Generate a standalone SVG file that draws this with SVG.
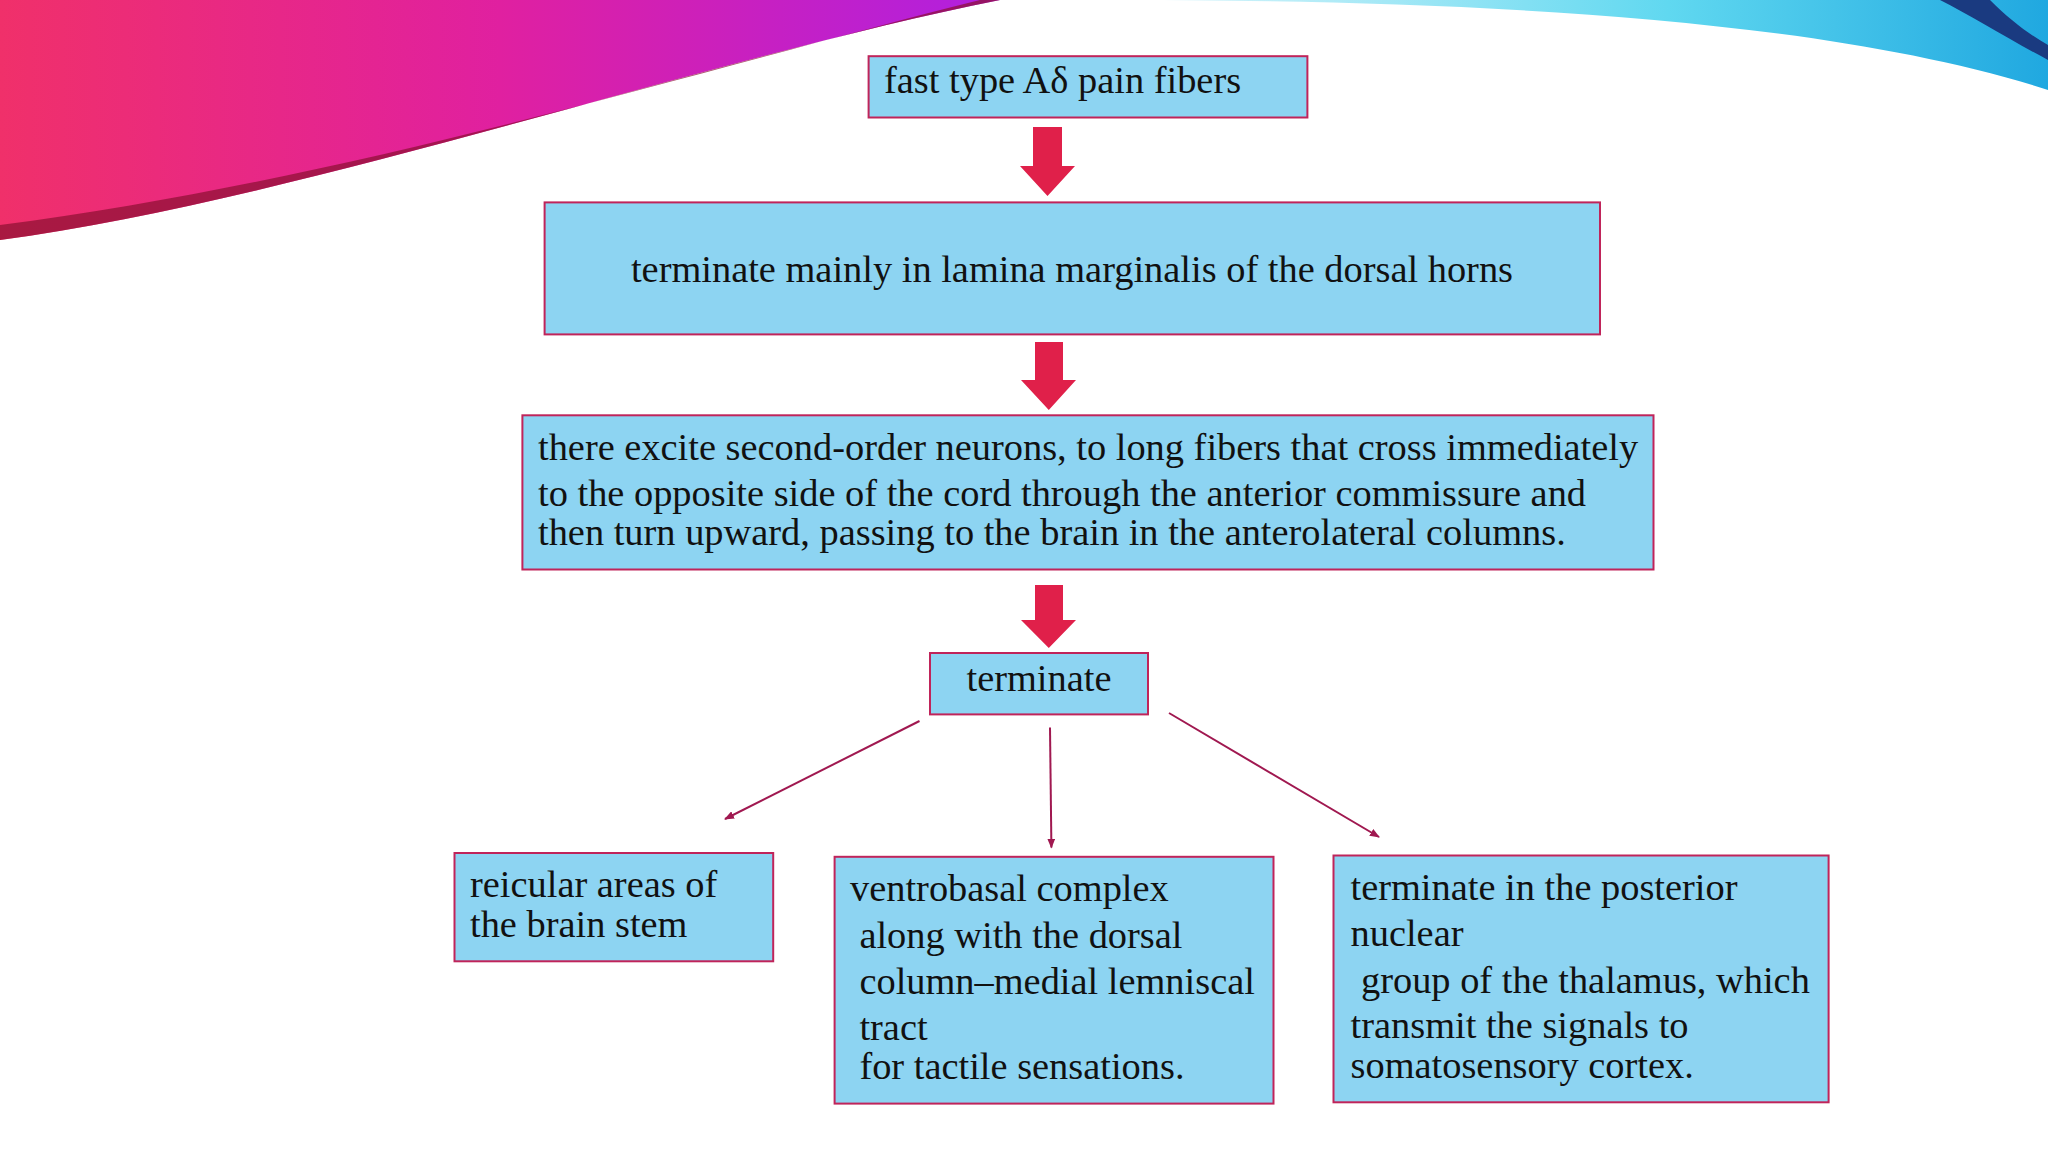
<svg xmlns="http://www.w3.org/2000/svg" width="2048" height="1152" viewBox="0 0 2048 1152">
<defs>
<linearGradient id="pk" x1="0" y1="0" x2="1" y2="0"><stop offset="0" stop-color="#F0306A"/><stop offset="0.5" stop-color="#E020A0"/><stop offset="1" stop-color="#B020E0"/></linearGradient>
<linearGradient id="cy" x1="0" y1="0" x2="1" y2="0"><stop offset="0" stop-color="#E8F8FC"/><stop offset="0.6" stop-color="#60D8F0"/><stop offset="1" stop-color="#20A8E0"/></linearGradient>
<marker id="ah" markerWidth="10" markerHeight="8" refX="9" refY="4" orient="auto" markerUnits="userSpaceOnUse"><path d="M0,0 L10,4 L0,8 Z" fill="#A01850"/></marker>
<style>
.bx{fill:#8DD4F2;stroke:#C0245A;stroke-width:2}
.t{font-family:"Liberation Serif",serif;font-size:38.4px;fill:#111}
.ba{fill:#E0204A}
.cn{stroke:#A01850;stroke-width:2;fill:none;marker-end:url(#ah)}
</style>
</defs>
<rect width="2048" height="1152" fill="#fff"/>
<path d="M0,0 L1000,0 C700,60 300,200 0,240 Z" fill="url(#pk)"/>
<path d="M0,240 C300,200 700,60 1000,0 L980,0 C700,70 350,180 0,225 Z" fill="#8A1030" opacity="0.7"/>
<path d="M1100,0 L2048,0 L2048,90 C1800,10 1400,0 1100,0 Z" fill="url(#cy)"/>
<path d="M1940,0 L1990,0 C2010,20 2030,35 2048,45 L2048,60 C2010,40 1970,15 1940,0 Z" fill="#1A3A80"/>
<g id="connectors">
<path class="ba" d="M1033,127 L1062,127 L1062,166 L1075,166 L1047.5,196 L1020,166 L1033,166 Z"/>
<path class="ba" d="M1035,342 L1063,342 L1063,380 L1076,380 L1048.8,410 L1021,380 L1035,380 Z"/>
<path class="ba" d="M1035,585 L1063,585 L1063,620 L1076,620 L1048.8,648 L1021,620 L1035,620 Z"/>
<line class="cn" x1="919.5" y1="721" x2="725" y2="819"/>
<line class="cn" x1="1050" y1="727.5" x2="1051.4" y2="847.6"/>
<line class="cn" x1="1169" y1="713" x2="1379" y2="837"/>
</g>
<g id="n1"><rect class="bx" x="868.6" y="56.2" width="438.8" height="61.3"/><text class="t" x="884" y="93">fast type Aδ pain fibers</text></g>
<g id="n2"><rect class="bx" x="544.6" y="202.4" width="1055.4" height="132"/><text class="t" x="1072" y="282" text-anchor="middle">terminate mainly in lamina marginalis of the dorsal horns</text></g>
<g id="n3"><rect class="bx" x="522.4" y="415.3" width="1131.1" height="154.2"/>
<text class="t" x="538" y="460">there excite second-order neurons, to long fibers that cross immediately</text>
<text class="t" x="538" y="505.5">to the opposite side of the cord through the anterior commissure and</text>
<text class="t" x="538" y="544.6">then turn upward, passing to the brain in the anterolateral columns.</text></g>
<g id="n4"><rect class="bx" x="930" y="653" width="218" height="61.4"/><text class="t" x="966.5" y="691">terminate</text></g>
<g id="n5"><rect class="bx" x="454.5" y="853" width="318.7" height="108.3"/>
<text class="t" x="470" y="897">reicular areas of</text><text class="t" x="470" y="936.5">the brain stem</text></g>
<g id="n6"><rect class="bx" x="834.6" y="856.8" width="438.9" height="246.8"/>
<text class="t" x="850" y="901">ventrobasal complex</text>
<text class="t" x="859.4" y="948">along with the dorsal</text>
<text class="t" x="859.4" y="994">column–medial lemniscal</text>
<text class="t" x="859.4" y="1040">tract</text>
<text class="t" x="859.4" y="1079">for tactile sensations.</text></g>
<g id="n7"><rect class="bx" x="1333.5" y="855.5" width="495.1" height="246.8"/>
<text class="t" x="1350.5" y="900">terminate in the posterior</text>
<text class="t" x="1350.5" y="945.6">nuclear</text>
<text class="t" x="1361" y="992.6">group of the thalamus, which</text>
<text class="t" x="1350.5" y="1038">transmit the signals to</text>
<text class="t" x="1350.5" y="1077.5">somatosensory cortex.</text></g>
</svg>
